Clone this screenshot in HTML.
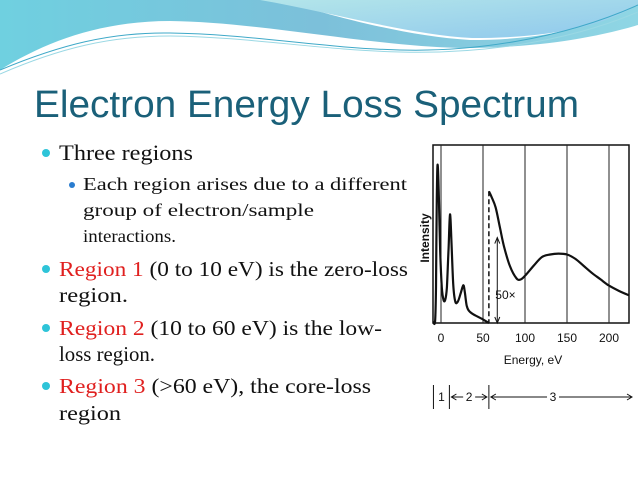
<!DOCTYPE html>
<html><head><meta charset="utf-8"><style>
html,body{margin:0;padding:0;background:#fff;}
svg{display:block;}
.t{font-family:"Liberation Serif",serif;fill:#111;}
.r{fill:#e0201f;}
.ax{font-family:"Liberation Sans",sans-serif;font-size:12px;fill:#111;}
</style></head><body>
<svg id="slide" width="638" height="478" viewBox="0 0 638 478" xmlns="http://www.w3.org/2000/svg">
<defs>
<linearGradient id="g1" x1="0" y1="0" x2="1" y2="0"><stop offset="0" stop-color="#6fd0e0"/><stop offset="0.5" stop-color="#7cc0da"/><stop offset="1" stop-color="#8fd6e4"/></linearGradient>
<linearGradient id="g2" x1="0" y1="0" x2="1" y2="1"><stop offset="0" stop-color="#b4e6ea"/><stop offset="1" stop-color="#8fc8ec"/></linearGradient>
</defs>
<g>
<path d="M0 0 H638 V25 C580 42 520 48 460 48 C370 46 260 22 170 21 C100 21 45 42 0 70 Z" fill="url(#g1)"/>
<path d="M230 0 H638 V3 C600 25 550 40 470 40 C400 36 320 12 280 0 Z" fill="#fff"/>
<path d="M245 0 H638 V5 C600 27 550 38 472 38 C410 35 330 12 260 0 Z" fill="url(#g2)"/>
<path d="M0 70 C60 45 110 32 170 33 C250 34 320 48 400 50 C470 52 560 40 638 5" fill="none" stroke="#3fa9c8" stroke-width="1"/>
<path d="M0 74 C60 48 110 36 170 36 C250 37 320 50 400 52 C470 54 560 45 638 12" fill="none" stroke="#9ad8e4" stroke-width="1"/>
</g>
<text x="34" y="117" font-family="Liberation Sans,sans-serif" font-size="38" fill="#1a6079" textLength="545" lengthAdjust="spacingAndGlyphs">Electron Energy Loss Spectrum</text>
<g>
<circle cx="46" cy="153" r="4" fill="#2ec4d8"/>
<text class="t" x="59" y="160" font-size="22" textLength="134" lengthAdjust="spacingAndGlyphs">Three regions</text>
<circle cx="72" cy="185" r="3" fill="#2a7ccf"/>
<text class="t" x="83" y="190" font-size="18" textLength="324" lengthAdjust="spacingAndGlyphs">Each region arises due to a different</text>
<text class="t" x="83" y="216" font-size="18" textLength="231" lengthAdjust="spacingAndGlyphs">group of electron/sample</text>
<text class="t" x="83" y="242" font-size="18" textLength="93" lengthAdjust="spacingAndGlyphs">interactions.</text>
<circle cx="46" cy="269" r="4" fill="#2ec4d8"/>
<text class="t" x="59" y="276" font-size="21" textLength="349" lengthAdjust="spacingAndGlyphs"><tspan class="r">Region 1</tspan> (0 to 10 eV) is the zero-loss</text>
<text class="t" x="59" y="302" font-size="21" textLength="69" lengthAdjust="spacingAndGlyphs">region.</text>
<circle cx="46" cy="328" r="4" fill="#2ec4d8"/>
<text class="t" x="59" y="335" font-size="21" textLength="323" lengthAdjust="spacingAndGlyphs"><tspan class="r">Region 2</tspan> (10 to 60 eV) is the low-</text>
<text class="t" x="59" y="361" font-size="21" textLength="96" lengthAdjust="spacingAndGlyphs">loss region.</text>
<circle cx="46" cy="386" r="4" fill="#2ec4d8"/>
<text class="t" x="59" y="393" font-size="21" textLength="312" lengthAdjust="spacingAndGlyphs"><tspan class="r">Region 3</tspan> (&gt;60 eV), the core-loss</text>
<text class="t" x="59" y="420" font-size="21" textLength="62" lengthAdjust="spacingAndGlyphs">region</text>
</g>
<g id="chart"></g>
</svg>
<script>
var xTicks=[0,50,100,150,200];
var lowE=[-9,-7,-6,-5,-4,-2.5,-1,1,3,5,7,9,10.7,12.5,14.5,17,20,23,25.5,27,28.5,30.5,33,38,44,50,57];
var lowI=[0.005,0.01,0.2,0.7,0.89,0.7,0.4,0.2,0.13,0.13,0.2,0.42,0.61,0.45,0.22,0.12,0.12,0.16,0.2,0.21,0.17,0.1,0.07,0.05,0.035,0.02,0];
var coreE=[57,60,65,70,75,82,90,95,100,110,120,130,140,150,160,170,180,190,200,212,224];
var coreI=[0.74,0.71,0.65,0.54,0.43,0.32,0.25,0.245,0.265,0.32,0.37,0.385,0.39,0.385,0.36,0.32,0.28,0.245,0.21,0.18,0.155];
var dashE=57, arrowE=67, arrowTop=0.48;
var regionBounds=[-9,10,57];
var regionLabels=["1","2","3"];
var X0=441,XS=0.84,YB=323,YH=178;
function sx(e){return X0+e*XS;}
function sy(v){return YB-v*YH;}
var NS="http://www.w3.org/2000/svg",g=document.getElementById('chart');
function mk(t,a,p){var e=document.createElementNS(NS,t);for(var k in a)e.setAttribute(k,a[k]);(p||g).appendChild(e);return e;}
var fr=mk('rect',{x:433,y:145,width:196,height:178,fill:'#fff',stroke:'#111','stroke-width':1.5});


xTicks.forEach(function(t){
var l=mk('line',{x1:sx(t),x2:sx(t),y1:145,y2:323,stroke:'#222','stroke-width':1});


var tx=mk('text',{x:sx(t),y:342,'text-anchor':'middle','class':'ax'});tx.textContent=t;


});
function path(E,I){
var P=E.map(function(e,i){return [sx(e),sy(I[i])];});
var d='M'+P[0][0].toFixed(1)+' '+P[0][1].toFixed(1);
for(var i=0;i<P.length-1;i++){
var p0=P[i-1]||P[i],p1=P[i],p2=P[i+1],p3=P[i+2]||p2;
var c1x=p1[0]+(p2[0]-p0[0])/6,c1y=p1[1]+(p2[1]-p0[1])/6,c2x=p2[0]-(p3[0]-p1[0])/6,c2y=p2[1]-(p3[1]-p1[1])/6;
d+=' C'+c1x.toFixed(1)+' '+c1y.toFixed(1)+' '+c2x.toFixed(1)+' '+c2y.toFixed(1)+' '+p2[0].toFixed(1)+' '+p2[1].toFixed(1);}
return d;}
var p1=mk('path',{d:path(lowE,lowI),fill:'none',stroke:'#111','stroke-width':2.2,'stroke-linejoin':'round'});


var p2=mk('path',{d:path(coreE,coreI),fill:'none',stroke:'#111','stroke-width':2.2,'stroke-linejoin':'round'});


var dl=mk('line',{x1:sx(dashE),x2:sx(dashE),y1:sy(coreI[0]),y2:YB,stroke:'#111','stroke-width':1.5,'stroke-dasharray':'5,3'});


var al=mk('line',{x1:sx(arrowE),x2:sx(arrowE),y1:sy(arrowTop),y2:YB,stroke:'#111','stroke-width':1});


mk('path',{d:'M'+(sx(arrowE)-2.5)+' '+(sy(arrowTop)+6)+' L'+sx(arrowE)+' '+sy(arrowTop)+' L'+(sx(arrowE)+2.5)+' '+(sy(arrowTop)+6)+' M'+(sx(arrowE)-2.5)+' '+(YB-6)+' L'+sx(arrowE)+' '+YB+' L'+(sx(arrowE)+2.5)+' '+(YB-6),fill:'none',stroke:'#111'});
var l50=mk('text',{x:sx(arrowE)-2,y:299,'class':'ax'});l50.textContent='50×';


var xl=mk('text',{x:533,y:364,'text-anchor':'middle','class':'ax'});xl.textContent='Energy, eV';


var yl=mk('text',{x:0,y:0,'text-anchor':'middle','class':'ax',transform:'translate(429,238) rotate(-90)','font-weight':'bold','font-size':'11'});yl.textContent='Intensity';


var RY=397;
regionBounds.forEach(function(b,i){
var v=mk('line',{x1:sx(b),x2:sx(b),y1:RY-12,y2:RY+12,stroke:'#111','stroke-width':1});


});
var ends=[regionBounds[1],regionBounds[2],224];
regionLabels.forEach(function(lb,i){
var a=regionBounds[i],b=ends[i],m=i==2?(sx(a)+sx(b))/2-6:(sx(a)+sx(b))/2;
if(i>0){mk('line',{x1:sx(a)+2,x2:m-6,y1:RY,y2:RY,stroke:'#111'});mk('line',{x1:m+6,x2:i==2?632:sx(b)-2,y1:RY,y2:RY,stroke:'#111'});
mk('path',{d:'M'+(sx(a)+7)+' '+(RY-3)+' L'+(sx(a)+2)+' '+RY+' L'+(sx(a)+7)+' '+(RY+3),fill:'none',stroke:'#111'});
var ex=i==2?632:sx(b)-2;mk('path',{d:'M'+(ex-5)+' '+(RY-3)+' L'+ex+' '+RY+' L'+(ex-5)+' '+(RY+3),fill:'none',stroke:'#111'});}
var t=mk('text',{x:m,y:RY+4,'text-anchor':'middle','class':'ax'});t.textContent=lb;


});
</script>
</body></html>
